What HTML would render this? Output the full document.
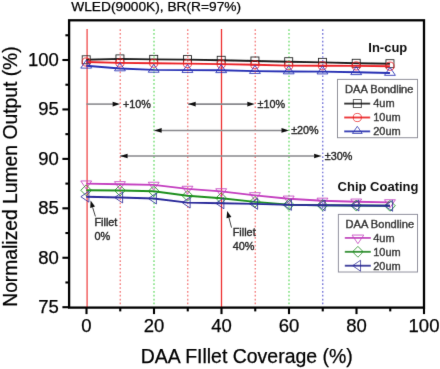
<!DOCTYPE html><html><head><meta charset="utf-8"><style>html,body{margin:0;padding:0;background:#fff}svg{display:block}.b{stroke:#000;stroke-width:.25px}.c{stroke:#2a2a2a;stroke-width:.4px}</style></head><body><svg width="440" height="369" viewBox="0 0 440 369" font-family="'Liberation Sans', Arial, sans-serif">
<defs><filter id="bl" x="0" y="0" width="440" height="369" filterUnits="userSpaceOnUse"><feConvolveMatrix order="3" kernelMatrix="0.00562 0.06375 0.00562 0.06375 0.72250 0.06375 0.00562 0.06375 0.00562" edgeMode="duplicate" preserveAlpha="false"/></filter></defs>
<rect width="440" height="369" fill="#fff"/>
<g filter="url(#bl)">
<line x1="87.11" y1="29" x2="87.11" y2="307.6" stroke="#f36c6c" stroke-width="1.6"/>
<line x1="120.25" y1="29.2" x2="120.25" y2="305.6" stroke="#f47a7a" stroke-width="1.3" stroke-dasharray="1.7 2.15"/>
<line x1="154.00" y1="29.2" x2="154.00" y2="305.6" stroke="#6cdc6c" stroke-width="1.3" stroke-dasharray="1.7 2.15"/>
<line x1="187.75" y1="29.2" x2="187.75" y2="305.6" stroke="#f47a7a" stroke-width="1.3" stroke-dasharray="1.7 2.15"/>
<line x1="221.50" y1="29" x2="221.50" y2="307.6" stroke="#ee3232" stroke-width="1.3"/>
<line x1="255.25" y1="29.2" x2="255.25" y2="305.6" stroke="#f47a7a" stroke-width="1.3" stroke-dasharray="1.7 2.15"/>
<line x1="289.00" y1="29.2" x2="289.00" y2="305.6" stroke="#6cdc6c" stroke-width="1.3" stroke-dasharray="1.7 2.15"/>
<line x1="322.75" y1="29.2" x2="322.75" y2="305.6" stroke="#7070d8" stroke-width="1.3" stroke-dasharray="1.7 2.15"/>
<line x1="86.50" y1="104.1" x2="117.10" y2="104.1" stroke="#88888c" stroke-width="1.55"/><path d="M120.10 104.1L112.60 101.8L112.60 106.39999999999999Z" fill="#111"/>
<line x1="188.20" y1="104.1" x2="251.80" y2="104.1" stroke="#88888c" stroke-width="1.55"/><path d="M254.80 104.1L247.30 101.8L247.30 106.39999999999999Z" fill="#111"/><path d="M188.20 104.1L195.70 101.8L195.70 106.39999999999999Z" fill="#111"/>
<line x1="154.20" y1="130.4" x2="286.00" y2="130.4" stroke="#88888c" stroke-width="1.55"/><path d="M289.00 130.4L281.50 128.1L281.50 132.70000000000002Z" fill="#111"/><path d="M154.20 130.4L161.70 128.1L161.70 132.70000000000002Z" fill="#111"/>
<line x1="120.10" y1="156.0" x2="318.60" y2="156.0" stroke="#88888c" stroke-width="1.55"/><path d="M321.60 156.0L314.10 153.7L314.10 158.3Z" fill="#111"/><path d="M120.10 156.0L127.60 153.7L127.60 158.3Z" fill="#111"/>
<polyline points="86.20,59.80 119.95,58.90 153.70,59.35 187.45,59.60 221.20,60.30 254.95,61.00 288.70,61.70 322.45,62.35 356.20,63.30 389.95,63.70" fill="none" stroke="#1c1c1c" stroke-width="1.9" stroke-linejoin="round"/>
<rect x="82.20" y="55.80" width="8.00" height="8.00" fill="none" stroke="#1c1c1c" stroke-width="0.85"/>
<rect x="115.95" y="54.90" width="8.00" height="8.00" fill="none" stroke="#1c1c1c" stroke-width="0.85"/>
<rect x="149.70" y="55.35" width="8.00" height="8.00" fill="none" stroke="#1c1c1c" stroke-width="0.85"/>
<rect x="183.45" y="55.60" width="8.00" height="8.00" fill="none" stroke="#1c1c1c" stroke-width="0.85"/>
<rect x="217.20" y="56.30" width="8.00" height="8.00" fill="none" stroke="#1c1c1c" stroke-width="0.85"/>
<rect x="250.95" y="57.00" width="8.00" height="8.00" fill="none" stroke="#1c1c1c" stroke-width="0.85"/>
<rect x="284.70" y="57.70" width="8.00" height="8.00" fill="none" stroke="#1c1c1c" stroke-width="0.85"/>
<rect x="318.45" y="58.35" width="8.00" height="8.00" fill="none" stroke="#1c1c1c" stroke-width="0.85"/>
<rect x="352.20" y="59.30" width="8.00" height="8.00" fill="none" stroke="#1c1c1c" stroke-width="0.85"/>
<rect x="385.95" y="59.70" width="8.00" height="8.00" fill="none" stroke="#1c1c1c" stroke-width="0.85"/>
<polyline points="86.20,62.00 119.95,62.90 153.70,63.20 187.45,63.60 221.20,64.10 254.95,64.80 288.70,65.65 322.45,65.80 356.20,65.90 389.95,66.20" fill="none" stroke="#ec2226" stroke-width="1.9" stroke-linejoin="round"/>
<circle cx="86.20" cy="62.00" r="4.10" fill="none" stroke="#ec2226" stroke-width="0.85"/>
<circle cx="119.95" cy="62.90" r="4.10" fill="none" stroke="#ec2226" stroke-width="0.85"/>
<circle cx="153.70" cy="63.20" r="4.10" fill="none" stroke="#ec2226" stroke-width="0.85"/>
<circle cx="187.45" cy="63.60" r="4.10" fill="none" stroke="#ec2226" stroke-width="0.85"/>
<circle cx="221.20" cy="64.10" r="4.10" fill="none" stroke="#ec2226" stroke-width="0.85"/>
<circle cx="254.95" cy="64.80" r="4.10" fill="none" stroke="#ec2226" stroke-width="0.85"/>
<circle cx="288.70" cy="65.65" r="4.10" fill="none" stroke="#ec2226" stroke-width="0.85"/>
<circle cx="322.45" cy="65.80" r="4.10" fill="none" stroke="#ec2226" stroke-width="0.85"/>
<circle cx="356.20" cy="65.90" r="4.10" fill="none" stroke="#ec2226" stroke-width="0.85"/>
<circle cx="389.95" cy="66.20" r="4.10" fill="none" stroke="#ec2226" stroke-width="0.85"/>
<polyline points="86.20,65.80 119.95,68.50 153.70,69.90 187.45,70.10 221.20,70.30 254.95,71.10 288.70,71.50 322.45,71.60 356.20,72.30 389.95,73.00" fill="none" stroke="#2630b4" stroke-width="1.9" stroke-linejoin="round"/>
<path d="M80.75 68.12L91.65 68.12L86.20 60.12Z" fill="none" stroke="#2630b4" stroke-width="0.85"/>
<path d="M114.50 70.82L125.40 70.82L119.95 62.82Z" fill="none" stroke="#2630b4" stroke-width="0.85"/>
<path d="M148.25 72.22L159.15 72.22L153.70 64.22Z" fill="none" stroke="#2630b4" stroke-width="0.85"/>
<path d="M182.00 72.42L192.90 72.42L187.45 64.42Z" fill="none" stroke="#2630b4" stroke-width="0.85"/>
<path d="M215.75 72.62L226.65 72.62L221.20 64.62Z" fill="none" stroke="#2630b4" stroke-width="0.85"/>
<path d="M249.50 73.42L260.40 73.42L254.95 65.42Z" fill="none" stroke="#2630b4" stroke-width="0.85"/>
<path d="M283.25 73.82L294.15 73.82L288.70 65.82Z" fill="none" stroke="#2630b4" stroke-width="0.85"/>
<path d="M317.00 73.92L327.90 73.92L322.45 65.92Z" fill="none" stroke="#2630b4" stroke-width="0.85"/>
<path d="M350.75 74.62L361.65 74.62L356.20 66.62Z" fill="none" stroke="#2630b4" stroke-width="0.85"/>
<path d="M384.50 75.32L395.40 75.32L389.95 67.32Z" fill="none" stroke="#2630b4" stroke-width="0.85"/>
<polyline points="86.20,183.60 119.95,184.30 153.70,184.90 187.45,188.90 221.20,191.40 254.95,195.35 288.70,198.70 322.45,200.80 356.20,201.70 389.95,202.40" fill="none" stroke="#c440c0" stroke-width="1.9" stroke-linejoin="round"/>
<path d="M80.75 180.96L91.65 180.96L86.20 188.96Z" fill="none" stroke="#c440c0" stroke-width="0.85"/>
<path d="M114.50 181.66L125.40 181.66L119.95 189.66Z" fill="none" stroke="#c440c0" stroke-width="0.85"/>
<path d="M148.25 182.26L159.15 182.26L153.70 190.26Z" fill="none" stroke="#c440c0" stroke-width="0.85"/>
<path d="M182.00 186.26L192.90 186.26L187.45 194.26Z" fill="none" stroke="#c440c0" stroke-width="0.85"/>
<path d="M215.75 188.76L226.65 188.76L221.20 196.76Z" fill="none" stroke="#c440c0" stroke-width="0.85"/>
<path d="M249.50 192.71L260.40 192.71L254.95 200.71Z" fill="none" stroke="#c440c0" stroke-width="0.85"/>
<path d="M283.25 196.06L294.15 196.06L288.70 204.06Z" fill="none" stroke="#c440c0" stroke-width="0.85"/>
<path d="M317.00 198.16L327.90 198.16L322.45 206.16Z" fill="none" stroke="#c440c0" stroke-width="0.85"/>
<path d="M350.75 199.06L361.65 199.06L356.20 207.06Z" fill="none" stroke="#c440c0" stroke-width="0.85"/>
<path d="M384.50 199.76L395.40 199.76L389.95 207.76Z" fill="none" stroke="#c440c0" stroke-width="0.85"/>
<polyline points="86.20,190.30 119.95,190.50 153.70,191.20 187.45,195.70 221.20,198.20 254.95,201.90 288.70,204.70 322.45,205.30 356.20,205.50 389.95,205.80" fill="none" stroke="#1f901f" stroke-width="1.9" stroke-linejoin="round"/>
<path d="M80.80 190.30L86.20 184.90L91.60 190.30L86.20 195.70Z" fill="none" stroke="#1f901f" stroke-width="0.85"/>
<path d="M114.55 190.50L119.95 185.10L125.35 190.50L119.95 195.90Z" fill="none" stroke="#1f901f" stroke-width="0.85"/>
<path d="M148.30 191.20L153.70 185.80L159.10 191.20L153.70 196.60Z" fill="none" stroke="#1f901f" stroke-width="0.85"/>
<path d="M182.05 195.70L187.45 190.30L192.85 195.70L187.45 201.10Z" fill="none" stroke="#1f901f" stroke-width="0.85"/>
<path d="M215.80 198.20L221.20 192.80L226.60 198.20L221.20 203.60Z" fill="none" stroke="#1f901f" stroke-width="0.85"/>
<path d="M249.55 201.90L254.95 196.50L260.35 201.90L254.95 207.30Z" fill="none" stroke="#1f901f" stroke-width="0.85"/>
<path d="M283.30 204.70L288.70 199.30L294.10 204.70L288.70 210.10Z" fill="none" stroke="#1f901f" stroke-width="0.85"/>
<path d="M317.05 205.30L322.45 199.90L327.85 205.30L322.45 210.70Z" fill="none" stroke="#1f901f" stroke-width="0.85"/>
<path d="M350.80 205.50L356.20 200.10L361.60 205.50L356.20 210.90Z" fill="none" stroke="#1f901f" stroke-width="0.85"/>
<path d="M384.55 205.80L389.95 200.40L395.35 205.80L389.95 211.20Z" fill="none" stroke="#1f901f" stroke-width="0.85"/>
<polyline points="86.20,196.70 119.95,197.50 153.70,198.50 187.45,202.60 221.20,203.30 254.95,203.90 288.70,204.90 322.45,205.30 356.20,205.50 389.95,205.80" fill="none" stroke="#2a2a9a" stroke-width="1.9" stroke-linejoin="round"/>
<path d="M88.87 191.25L88.87 202.15L80.87 196.70Z" fill="none" stroke="#2a2a9a" stroke-width="0.85"/>
<path d="M122.62 192.05L122.62 202.95L114.62 197.50Z" fill="none" stroke="#2a2a9a" stroke-width="0.85"/>
<path d="M156.37 193.05L156.37 203.95L148.37 198.50Z" fill="none" stroke="#2a2a9a" stroke-width="0.85"/>
<path d="M190.12 197.15L190.12 208.05L182.12 202.60Z" fill="none" stroke="#2a2a9a" stroke-width="0.85"/>
<path d="M223.87 197.85L223.87 208.75L215.87 203.30Z" fill="none" stroke="#2a2a9a" stroke-width="0.85"/>
<path d="M257.62 198.45L257.62 209.35L249.62 203.90Z" fill="none" stroke="#2a2a9a" stroke-width="0.85"/>
<path d="M291.37 199.45L291.37 210.35L283.37 204.90Z" fill="none" stroke="#2a2a9a" stroke-width="0.85"/>
<path d="M325.12 199.85L325.12 210.75L317.12 205.30Z" fill="none" stroke="#2a2a9a" stroke-width="0.85"/>
<path d="M358.87 200.05L358.87 210.95L350.87 205.50Z" fill="none" stroke="#2a2a9a" stroke-width="0.85"/>
<path d="M392.62 200.35L392.62 211.25L384.62 205.80Z" fill="none" stroke="#2a2a9a" stroke-width="0.85"/>
<rect x="69.1" y="20.3" width="354.9" height="287.3" fill="none" stroke="#000" stroke-width="2.3"/>
<line x1="62.39999999999999" y1="307.20" x2="69.1" y2="307.20" stroke="#000" stroke-width="2.1"/>
<text x="58.8" y="313.00" font-size="18.5" text-anchor="end" fill="#000" class="b">75</text>
<line x1="62.39999999999999" y1="257.76" x2="69.1" y2="257.76" stroke="#000" stroke-width="2.1"/>
<text x="58.8" y="263.56" font-size="18.5" text-anchor="end" fill="#000" class="b">80</text>
<line x1="62.39999999999999" y1="208.32" x2="69.1" y2="208.32" stroke="#000" stroke-width="2.1"/>
<text x="58.8" y="214.12" font-size="18.5" text-anchor="end" fill="#000" class="b">85</text>
<line x1="62.39999999999999" y1="158.88" x2="69.1" y2="158.88" stroke="#000" stroke-width="2.1"/>
<text x="58.8" y="164.68" font-size="18.5" text-anchor="end" fill="#000" class="b">90</text>
<line x1="62.39999999999999" y1="109.44" x2="69.1" y2="109.44" stroke="#000" stroke-width="2.1"/>
<text x="58.8" y="115.24" font-size="18.5" text-anchor="end" fill="#000" class="b">95</text>
<line x1="62.39999999999999" y1="60.00" x2="69.1" y2="60.00" stroke="#000" stroke-width="2.1"/>
<text x="58.8" y="65.80" font-size="18.5" text-anchor="end" fill="#000" class="b">100</text>
<line x1="65.39999999999999" y1="282.48" x2="69.1" y2="282.48" stroke="#000" stroke-width="2.1"/>
<line x1="65.39999999999999" y1="233.04" x2="69.1" y2="233.04" stroke="#000" stroke-width="2.1"/>
<line x1="65.39999999999999" y1="183.60" x2="69.1" y2="183.60" stroke="#000" stroke-width="2.1"/>
<line x1="65.39999999999999" y1="134.16" x2="69.1" y2="134.16" stroke="#000" stroke-width="2.1"/>
<line x1="65.39999999999999" y1="84.72" x2="69.1" y2="84.72" stroke="#000" stroke-width="2.1"/>
<line x1="65.39999999999999" y1="35.28" x2="69.1" y2="35.28" stroke="#000" stroke-width="2.1"/>
<line x1="86.50" y1="307.6" x2="86.50" y2="314.1" stroke="#000" stroke-width="2.1"/>
<text x="86.50" y="331.5" font-size="18.5" text-anchor="middle" fill="#000" class="b">0</text>
<line x1="154.00" y1="307.6" x2="154.00" y2="314.1" stroke="#000" stroke-width="2.1"/>
<text x="154.00" y="331.5" font-size="18.5" text-anchor="middle" fill="#000" class="b">20</text>
<line x1="221.50" y1="307.6" x2="221.50" y2="314.1" stroke="#000" stroke-width="2.1"/>
<text x="221.50" y="331.5" font-size="18.5" text-anchor="middle" fill="#000" class="b">40</text>
<line x1="289.00" y1="307.6" x2="289.00" y2="314.1" stroke="#000" stroke-width="2.1"/>
<text x="289.00" y="331.5" font-size="18.5" text-anchor="middle" fill="#000" class="b">60</text>
<line x1="356.50" y1="307.6" x2="356.50" y2="314.1" stroke="#000" stroke-width="2.1"/>
<text x="356.50" y="331.5" font-size="18.5" text-anchor="middle" fill="#000" class="b">80</text>
<line x1="424.00" y1="307.6" x2="424.00" y2="314.1" stroke="#000" stroke-width="2.1"/>
<text x="424.00" y="331.5" font-size="18.5" text-anchor="middle" fill="#000" class="b">100</text>
<line x1="120.25" y1="307.6" x2="120.25" y2="311.40000000000003" stroke="#000" stroke-width="2.1"/>
<line x1="187.75" y1="307.6" x2="187.75" y2="311.40000000000003" stroke="#000" stroke-width="2.1"/>
<line x1="255.25" y1="307.6" x2="255.25" y2="311.40000000000003" stroke="#000" stroke-width="2.1"/>
<line x1="322.75" y1="307.6" x2="322.75" y2="311.40000000000003" stroke="#000" stroke-width="2.1"/>
<line x1="390.25" y1="307.6" x2="390.25" y2="311.40000000000003" stroke="#000" stroke-width="2.1"/>
<text x="71.2" y="11.4" font-size="13.4" textLength="170" lengthAdjust="spacingAndGlyphs" fill="#000" class="b">WLED(9000K), BR(R=97%)</text>
<text x="140.8" y="363" font-size="19.4" textLength="212" lengthAdjust="spacingAndGlyphs" fill="#000" class="b">DAA FIllet Coverage (%)</text>
<text transform="translate(17.0 306.8) rotate(-90)" font-size="19.4" textLength="260.5" lengthAdjust="spacingAndGlyphs" fill="#000" class="b">Normalized Lumen Output (%)</text>
<text x="123" y="108" font-size="10.8" fill="#2a2a2a" class="c">+10%</text>
<text x="257.6" y="107.6" font-size="10.8" fill="#2a2a2a" class="c">±10%</text>
<text x="291.2" y="134.3" font-size="10.8" fill="#2a2a2a" class="c">±20%</text>
<text x="324.8" y="159.5" font-size="10.8" fill="#2a2a2a" class="c">±30%</text>
<text x="94.4" y="225.5" font-size="10.9" fill="#2a2a2a" class="c">Fillet</text><text x="94.4" y="239.5" font-size="10.9" fill="#2a2a2a" class="c">0%</text>
<text x="232.7" y="236" font-size="10.9" fill="#2a2a2a" class="c">Fillet</text><text x="232.7" y="250" font-size="10.9" fill="#2a2a2a" class="c">40%</text>
<line x1="95.40" y1="216.50" x2="92.62" y2="207.30" stroke="#444" stroke-width="1"/><path d="M90.60 200.60L95.02 206.58L90.23 208.02Z" fill="#111"/>
<line x1="231.50" y1="227.60" x2="228.95" y2="217.68" stroke="#444" stroke-width="1"/><path d="M227.20 210.90L231.37 217.06L226.52 218.30Z" fill="#111"/>
<text x="368.3" y="52.2" font-size="13" font-weight="bold" fill="#111">In-cup</text>
<text x="337.6" y="190.5" font-size="13" font-weight="bold" fill="#111">Chip Coating</text>
<rect x="337.5" y="79.4" width="80.0" height="58.3" fill="#fff" stroke="#8e8e98" stroke-width="1"/><text x="345.0" y="93.10000000000001" font-size="11.1" fill="#111" class="c">DAA Bondline</text><line x1="344.20" y1="103.60" x2="370.20" y2="103.60" stroke="#1c1c1c" stroke-width="1.85"/><rect x="353.30" y="99.60" width="8.00" height="8.00" fill="none" stroke="#1c1c1c" stroke-width="0.85"/><text x="373.2" y="107.40" font-size="11" fill="#111" class="c">4um</text><line x1="344.20" y1="117.50" x2="370.20" y2="117.50" stroke="#ec2226" stroke-width="1.85"/><circle cx="357.30" cy="117.50" r="4.10" fill="none" stroke="#ec2226" stroke-width="0.85"/><text x="373.2" y="121.30" font-size="11" fill="#111" class="c">10um</text><line x1="344.20" y1="131.40" x2="370.20" y2="131.40" stroke="#2630b4" stroke-width="1.85"/><path d="M352.40 133.49L362.20 133.49L357.30 126.29Z" fill="none" stroke="#2630b4" stroke-width="0.85"/><text x="373.2" y="135.20" font-size="11" fill="#111" class="c">20um</text>
<rect x="338.4" y="214.4" width="79.1" height="57.6" fill="#fff" stroke="#8e8e9c" stroke-width="1"/><text x="345.6" y="228.1" font-size="11.1" fill="#111" class="c">DAA Bondline</text><line x1="344.80" y1="237.90" x2="370.80" y2="237.90" stroke="#c440c0" stroke-width="1.85"/><path d="M352.01 235.05L363.79 235.05L357.90 243.69Z" fill="none" stroke="#c440c0" stroke-width="0.85"/><text x="373.2" y="241.70" font-size="11" fill="#111" class="c">4um</text><line x1="344.80" y1="251.80" x2="370.80" y2="251.80" stroke="#1f901f" stroke-width="1.85"/><path d="M352.50 251.80L357.90 246.40L363.30 251.80L357.90 257.20Z" fill="none" stroke="#1f901f" stroke-width="0.85"/><text x="373.2" y="255.60" font-size="11" fill="#111" class="c">10um</text><line x1="344.80" y1="265.70" x2="370.80" y2="265.70" stroke="#2a2a9a" stroke-width="1.85"/><path d="M360.57 260.25L360.57 271.15L352.57 265.70Z" fill="none" stroke="#2a2a9a" stroke-width="0.85"/><text x="373.2" y="269.50" font-size="11" fill="#111" class="c">20um</text>
</g></svg></body></html>
